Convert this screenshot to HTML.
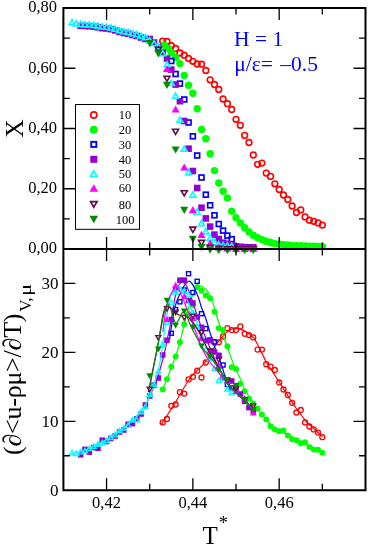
<!DOCTYPE html><html><head><meta charset="utf-8"><style>html,body{margin:0;padding:0;background:#fff;width:368px;height:545px;overflow:hidden}svg{display:block;will-change:transform}text{font-family:"Liberation Serif",serif}</style></head><body>
<svg width="368" height="545" viewBox="0 0 368 545">
<rect width="368" height="545" fill="#fff"/>
<g>
<circle cx="162.66" cy="41.1" r="2.87" fill="none" stroke="#ff0000" stroke-width="1.6"/>
<circle cx="166.98" cy="41.5" r="2.87" fill="none" stroke="#ff0000" stroke-width="1.6"/>
<circle cx="171.29" cy="45.7" r="2.87" fill="none" stroke="#ff0000" stroke-width="1.6"/>
<circle cx="175.61" cy="48.5" r="2.87" fill="none" stroke="#ff0000" stroke-width="1.6"/>
<circle cx="179.92" cy="53" r="2.87" fill="none" stroke="#ff0000" stroke-width="1.6"/>
<circle cx="184.24" cy="55.2" r="2.87" fill="none" stroke="#ff0000" stroke-width="1.6"/>
<circle cx="188.56" cy="58.5" r="2.87" fill="none" stroke="#ff0000" stroke-width="1.6"/>
<circle cx="192.87" cy="61.3" r="2.87" fill="none" stroke="#ff0000" stroke-width="1.6"/>
<circle cx="197.19" cy="64" r="2.87" fill="none" stroke="#ff0000" stroke-width="1.6"/>
<circle cx="201.5" cy="64.2" r="2.87" fill="none" stroke="#ff0000" stroke-width="1.6"/>
<circle cx="205.82" cy="70.5" r="2.87" fill="none" stroke="#ff0000" stroke-width="1.6"/>
<circle cx="210.13" cy="79.8" r="2.87" fill="none" stroke="#ff0000" stroke-width="1.6"/>
<circle cx="214.45" cy="84.5" r="2.87" fill="none" stroke="#ff0000" stroke-width="1.6"/>
<circle cx="218.77" cy="89.5" r="2.87" fill="none" stroke="#ff0000" stroke-width="1.6"/>
<circle cx="223.08" cy="99" r="2.87" fill="none" stroke="#ff0000" stroke-width="1.6"/>
<circle cx="227.4" cy="103.7" r="2.87" fill="none" stroke="#ff0000" stroke-width="1.6"/>
<circle cx="231.71" cy="109.5" r="2.87" fill="none" stroke="#ff0000" stroke-width="1.6"/>
<circle cx="236.03" cy="119.3" r="2.87" fill="none" stroke="#ff0000" stroke-width="1.6"/>
<circle cx="240.34" cy="125.3" r="2.87" fill="none" stroke="#ff0000" stroke-width="1.6"/>
<circle cx="244.66" cy="135.4" r="2.87" fill="none" stroke="#ff0000" stroke-width="1.6"/>
<circle cx="248.98" cy="142.5" r="2.87" fill="none" stroke="#ff0000" stroke-width="1.6"/>
<circle cx="253.29" cy="155" r="2.87" fill="none" stroke="#ff0000" stroke-width="1.6"/>
<circle cx="257.61" cy="164.3" r="2.87" fill="none" stroke="#ff0000" stroke-width="1.6"/>
<circle cx="261.92" cy="163.1" r="2.87" fill="none" stroke="#ff0000" stroke-width="1.6"/>
<circle cx="266.24" cy="173.1" r="2.87" fill="none" stroke="#ff0000" stroke-width="1.6"/>
<circle cx="270.55" cy="176.4" r="2.87" fill="none" stroke="#ff0000" stroke-width="1.6"/>
<circle cx="274.87" cy="183.8" r="2.87" fill="none" stroke="#ff0000" stroke-width="1.6"/>
<circle cx="279.19" cy="189.5" r="2.87" fill="none" stroke="#ff0000" stroke-width="1.6"/>
<circle cx="283.5" cy="195" r="2.87" fill="none" stroke="#ff0000" stroke-width="1.6"/>
<circle cx="287.82" cy="199.5" r="2.87" fill="none" stroke="#ff0000" stroke-width="1.6"/>
<circle cx="292.13" cy="206" r="2.87" fill="none" stroke="#ff0000" stroke-width="1.6"/>
<circle cx="296.45" cy="212.5" r="2.87" fill="none" stroke="#ff0000" stroke-width="1.6"/>
<circle cx="300.76" cy="209.9" r="2.87" fill="none" stroke="#ff0000" stroke-width="1.6"/>
<circle cx="305.08" cy="216.9" r="2.87" fill="none" stroke="#ff0000" stroke-width="1.6"/>
<circle cx="309.4" cy="220.2" r="2.87" fill="none" stroke="#ff0000" stroke-width="1.6"/>
<circle cx="313.71" cy="221.3" r="2.87" fill="none" stroke="#ff0000" stroke-width="1.6"/>
<circle cx="318.03" cy="222.9" r="2.87" fill="none" stroke="#ff0000" stroke-width="1.6"/>
<circle cx="322.34" cy="225.1" r="2.87" fill="none" stroke="#ff0000" stroke-width="1.6"/>
<circle cx="164.26" cy="45.3" r="3.71" fill="#00ff00"/>
<circle cx="168.58" cy="48.5" r="3.71" fill="#00ff00"/>
<circle cx="171.29" cy="52.8" r="3.71" fill="#00ff00"/>
<circle cx="175.61" cy="57.5" r="3.71" fill="#00ff00"/>
<circle cx="179.92" cy="63.6" r="3.71" fill="#00ff00"/>
<circle cx="184.24" cy="75.5" r="3.71" fill="#00ff00"/>
<circle cx="188.56" cy="85.2" r="3.71" fill="#00ff00"/>
<circle cx="192.87" cy="93.2" r="3.71" fill="#00ff00"/>
<circle cx="197.19" cy="108.8" r="3.71" fill="#00ff00"/>
<circle cx="201.5" cy="129.5" r="3.71" fill="#00ff00"/>
<circle cx="205.82" cy="138.8" r="3.71" fill="#00ff00"/>
<circle cx="210.13" cy="153.8" r="3.71" fill="#00ff00"/>
<circle cx="214.45" cy="170.6" r="3.71" fill="#00ff00"/>
<circle cx="218.77" cy="183" r="3.71" fill="#00ff00"/>
<circle cx="223.08" cy="191.3" r="3.71" fill="#00ff00"/>
<circle cx="227.4" cy="198" r="3.71" fill="#00ff00"/>
<circle cx="231.71" cy="211.3" r="3.71" fill="#00ff00"/>
<circle cx="236.03" cy="217.8" r="3.71" fill="#00ff00"/>
<circle cx="240.34" cy="222.9" r="3.71" fill="#00ff00"/>
<circle cx="244.66" cy="227.8" r="3.71" fill="#00ff00"/>
<circle cx="248.98" cy="231.9" r="3.71" fill="#00ff00"/>
<circle cx="253.29" cy="235.2" r="3.71" fill="#00ff00"/>
<circle cx="257.61" cy="237.6" r="3.71" fill="#00ff00"/>
<circle cx="261.92" cy="239.6" r="3.71" fill="#00ff00"/>
<circle cx="266.24" cy="241.2" r="3.71" fill="#00ff00"/>
<circle cx="270.55" cy="242.5" r="3.71" fill="#00ff00"/>
<circle cx="274.87" cy="243.6" r="3.71" fill="#00ff00"/>
<circle cx="279.19" cy="244.1" r="3.71" fill="#00ff00"/>
<circle cx="283.5" cy="244.6" r="3.71" fill="#00ff00"/>
<circle cx="287.82" cy="245" r="3.71" fill="#00ff00"/>
<circle cx="292.13" cy="245.4" r="3.71" fill="#00ff00"/>
<circle cx="296.45" cy="245.6" r="3.71" fill="#00ff00"/>
<circle cx="300.76" cy="245.8" r="3.71" fill="#00ff00"/>
<circle cx="305.08" cy="246" r="3.71" fill="#00ff00"/>
<circle cx="309.4" cy="246.2" r="3.71" fill="#00ff00"/>
<circle cx="313.71" cy="246.3" r="3.71" fill="#00ff00"/>
<circle cx="318.03" cy="246.4" r="3.71" fill="#00ff00"/>
<circle cx="322.34" cy="246.5" r="3.71" fill="#00ff00"/>
<rect x="168.85" y="58.56" width="4.88" height="4.88" fill="none" stroke="#0000ff" stroke-width="1.7"/>
<rect x="173.17" y="71.56" width="4.88" height="4.88" fill="none" stroke="#0000ff" stroke-width="1.7"/>
<rect x="177.48" y="81.16" width="4.88" height="4.88" fill="none" stroke="#0000ff" stroke-width="1.7"/>
<rect x="181.8" y="97.06" width="4.88" height="4.88" fill="none" stroke="#0000ff" stroke-width="1.7"/>
<rect x="186.12" y="120.06" width="4.88" height="4.88" fill="none" stroke="#0000ff" stroke-width="1.7"/>
<rect x="190.43" y="133.86" width="4.88" height="4.88" fill="none" stroke="#0000ff" stroke-width="1.7"/>
<rect x="194.75" y="153.06" width="4.88" height="4.88" fill="none" stroke="#0000ff" stroke-width="1.7"/>
<rect x="199.06" y="175.06" width="4.88" height="4.88" fill="none" stroke="#0000ff" stroke-width="1.7"/>
<rect x="203.38" y="192.26" width="4.88" height="4.88" fill="none" stroke="#0000ff" stroke-width="1.7"/>
<rect x="207.69" y="202.86" width="4.88" height="4.88" fill="none" stroke="#0000ff" stroke-width="1.7"/>
<rect x="212.01" y="212.86" width="4.88" height="4.88" fill="none" stroke="#0000ff" stroke-width="1.7"/>
<rect x="216.33" y="221.56" width="4.88" height="4.88" fill="none" stroke="#0000ff" stroke-width="1.7"/>
<rect x="220.64" y="228.16" width="4.88" height="4.88" fill="none" stroke="#0000ff" stroke-width="1.7"/>
<rect x="224.96" y="233.16" width="4.88" height="4.88" fill="none" stroke="#0000ff" stroke-width="1.7"/>
<rect x="229.27" y="236.76" width="4.88" height="4.88" fill="none" stroke="#0000ff" stroke-width="1.7"/>
<rect x="77.37" y="22.51" width="6.58" height="6.58" fill="#9400d3"/>
<rect x="81.69" y="22.71" width="6.58" height="6.58" fill="#9400d3"/>
<rect x="86" y="22.91" width="6.58" height="6.58" fill="#9400d3"/>
<rect x="90.32" y="23.41" width="6.58" height="6.58" fill="#9400d3"/>
<rect x="94.64" y="24.01" width="6.58" height="6.58" fill="#9400d3"/>
<rect x="98.95" y="24.91" width="6.58" height="6.58" fill="#9400d3"/>
<rect x="103.27" y="25.21" width="6.58" height="6.58" fill="#9400d3"/>
<rect x="107.58" y="25.91" width="6.58" height="6.58" fill="#9400d3"/>
<rect x="111.9" y="27.21" width="6.58" height="6.58" fill="#9400d3"/>
<rect x="116.21" y="28.71" width="6.58" height="6.58" fill="#9400d3"/>
<rect x="120.53" y="29.71" width="6.58" height="6.58" fill="#9400d3"/>
<rect x="124.85" y="30.41" width="6.58" height="6.58" fill="#9400d3"/>
<rect x="129.16" y="31.71" width="6.58" height="6.58" fill="#9400d3"/>
<rect x="133.48" y="32.71" width="6.58" height="6.58" fill="#9400d3"/>
<rect x="137.79" y="34.21" width="6.58" height="6.58" fill="#9400d3"/>
<rect x="142.11" y="35.71" width="6.58" height="6.58" fill="#9400d3"/>
<rect x="146.42" y="35.71" width="6.58" height="6.58" fill="#9400d3"/>
<rect x="150.74" y="39.21" width="6.58" height="6.58" fill="#9400d3"/>
<rect x="155.06" y="44.21" width="6.58" height="6.58" fill="#9400d3"/>
<rect x="159.37" y="49.21" width="6.58" height="6.58" fill="#9400d3"/>
<rect x="163.69" y="55.31" width="6.58" height="6.58" fill="#9400d3"/>
<rect x="168" y="66.31" width="6.58" height="6.58" fill="#9400d3"/>
<rect x="172.32" y="81.31" width="6.58" height="6.58" fill="#9400d3"/>
<rect x="176.63" y="97.91" width="6.58" height="6.58" fill="#9400d3"/>
<rect x="180.95" y="117.71" width="6.58" height="6.58" fill="#9400d3"/>
<rect x="185.27" y="145.41" width="6.58" height="6.58" fill="#9400d3"/>
<rect x="189.58" y="167.71" width="6.58" height="6.58" fill="#9400d3"/>
<rect x="193.9" y="184.71" width="6.58" height="6.58" fill="#9400d3"/>
<rect x="198.21" y="204.41" width="6.58" height="6.58" fill="#9400d3"/>
<rect x="202.53" y="215.11" width="6.58" height="6.58" fill="#9400d3"/>
<rect x="206.84" y="223.31" width="6.58" height="6.58" fill="#9400d3"/>
<rect x="211.16" y="231.31" width="6.58" height="6.58" fill="#9400d3"/>
<rect x="215.48" y="235.71" width="6.58" height="6.58" fill="#9400d3"/>
<rect x="219.79" y="239.41" width="6.58" height="6.58" fill="#9400d3"/>
<rect x="224.11" y="240.51" width="6.58" height="6.58" fill="#9400d3"/>
<rect x="228.42" y="241.71" width="6.58" height="6.58" fill="#9400d3"/>
<rect x="232.74" y="243.01" width="6.58" height="6.58" fill="#9400d3"/>
<rect x="237.05" y="243.51" width="6.58" height="6.58" fill="#9400d3"/>
<rect x="241.37" y="243.81" width="6.58" height="6.58" fill="#9400d3"/>
<rect x="245.69" y="244.01" width="6.58" height="6.58" fill="#9400d3"/>
<rect x="250" y="244.01" width="6.58" height="6.58" fill="#9400d3"/>
<path d="M72.03 19.66L75.04 24.92L69.02 24.92Z" fill="none" stroke="#00ffff" stroke-width="1.6"/>
<path d="M76.35 20.66L79.36 25.92L73.34 25.92Z" fill="none" stroke="#00ffff" stroke-width="1.6"/>
<path d="M80.66 21.36L83.67 26.62L77.65 26.62Z" fill="none" stroke="#00ffff" stroke-width="1.6"/>
<path d="M84.98 21.56L87.99 26.82L81.97 26.82Z" fill="none" stroke="#00ffff" stroke-width="1.6"/>
<path d="M89.29 21.76L92.3 27.02L86.29 27.02Z" fill="none" stroke="#00ffff" stroke-width="1.6"/>
<path d="M93.61 22.26L96.62 27.52L90.6 27.52Z" fill="none" stroke="#00ffff" stroke-width="1.6"/>
<path d="M97.93 22.86L100.93 28.12L94.92 28.12Z" fill="none" stroke="#00ffff" stroke-width="1.6"/>
<path d="M102.24 23.76L105.25 29.02L99.23 29.02Z" fill="none" stroke="#00ffff" stroke-width="1.6"/>
<path d="M106.56 24.06L109.57 29.32L103.55 29.32Z" fill="none" stroke="#00ffff" stroke-width="1.6"/>
<path d="M110.87 24.76L113.88 30.02L107.86 30.02Z" fill="none" stroke="#00ffff" stroke-width="1.6"/>
<path d="M115.19 26.06L118.2 31.32L112.18 31.32Z" fill="none" stroke="#00ffff" stroke-width="1.6"/>
<path d="M119.5 27.56L122.51 32.82L116.5 32.82Z" fill="none" stroke="#00ffff" stroke-width="1.6"/>
<path d="M123.82 28.56L126.83 33.82L120.81 33.82Z" fill="none" stroke="#00ffff" stroke-width="1.6"/>
<path d="M128.14 29.26L131.14 34.52L125.13 34.52Z" fill="none" stroke="#00ffff" stroke-width="1.6"/>
<path d="M132.45 30.56L135.46 35.82L129.44 35.82Z" fill="none" stroke="#00ffff" stroke-width="1.6"/>
<path d="M136.77 31.56L139.78 36.82L133.76 36.82Z" fill="none" stroke="#00ffff" stroke-width="1.6"/>
<path d="M141.08 33.06L144.09 38.32L138.07 38.32Z" fill="none" stroke="#00ffff" stroke-width="1.6"/>
<path d="M145.4 34.56L148.41 39.82L142.39 39.82Z" fill="none" stroke="#00ffff" stroke-width="1.6"/>
<path d="M149.71 37.56L152.72 42.82L146.71 42.82Z" fill="none" stroke="#00ffff" stroke-width="1.6"/>
<path d="M154.03 40.56L157.04 45.82L151.02 45.82Z" fill="none" stroke="#00ffff" stroke-width="1.6"/>
<path d="M158.35 43.56L161.35 48.82L155.34 48.82Z" fill="none" stroke="#00ffff" stroke-width="1.6"/>
<path d="M162.66 50.56L165.67 55.82L159.65 55.82Z" fill="none" stroke="#00ffff" stroke-width="1.6"/>
<path d="M166.98 61.56L169.99 66.82L163.97 66.82Z" fill="none" stroke="#00ffff" stroke-width="1.6"/>
<path d="M171.29 80.26L174.3 85.52L168.28 85.52Z" fill="none" stroke="#00ffff" stroke-width="1.6"/>
<path d="M175.61 93.06L178.62 98.32L172.6 98.32Z" fill="none" stroke="#00ffff" stroke-width="1.6"/>
<path d="M179.92 117.06L182.93 122.32L176.92 122.32Z" fill="none" stroke="#00ffff" stroke-width="1.6"/>
<path d="M184.24 146.06L187.25 151.32L181.23 151.32Z" fill="none" stroke="#00ffff" stroke-width="1.6"/>
<path d="M188.56 169.56L191.56 174.82L185.55 174.82Z" fill="none" stroke="#00ffff" stroke-width="1.6"/>
<path d="M192.87 191.86L195.88 197.12L189.86 197.12Z" fill="none" stroke="#00ffff" stroke-width="1.6"/>
<path d="M197.19 208.96L200.2 214.22L194.18 214.22Z" fill="none" stroke="#00ffff" stroke-width="1.6"/>
<path d="M201.5 220.36L204.51 225.62L198.49 225.62Z" fill="none" stroke="#00ffff" stroke-width="1.6"/>
<path d="M205.82 228.66L208.83 233.92L202.81 233.92Z" fill="none" stroke="#00ffff" stroke-width="1.6"/>
<path d="M210.13 235.16L213.14 240.42L207.13 240.42Z" fill="none" stroke="#00ffff" stroke-width="1.6"/>
<path d="M214.45 239.26L217.46 244.52L211.44 244.52Z" fill="none" stroke="#00ffff" stroke-width="1.6"/>
<path d="M218.77 241.66L221.77 246.92L215.76 246.92Z" fill="none" stroke="#00ffff" stroke-width="1.6"/>
<path d="M223.08 242.56L226.09 247.82L220.07 247.82Z" fill="none" stroke="#00ffff" stroke-width="1.6"/>
<path d="M227.4 242.96L230.41 248.22L224.39 248.22Z" fill="none" stroke="#00ffff" stroke-width="1.6"/>
<path d="M231.71 243.16L234.72 248.42L228.7 248.42Z" fill="none" stroke="#00ffff" stroke-width="1.6"/>
<path d="M166.98 64.88L171.02 72.12L162.94 72.12Z" fill="#ff00ff"/>
<path d="M175.61 105.38L179.65 112.62L171.57 112.62Z" fill="#ff00ff"/>
<path d="M184.24 163.38L188.28 170.62L180.2 170.62Z" fill="#ff00ff"/>
<path d="M192.87 206.08L196.91 213.32L188.83 213.32Z" fill="#ff00ff"/>
<path d="M201.5 230.78L205.54 238.02L197.46 238.02Z" fill="#ff00ff"/>
<path d="M210.13 239.18L214.18 246.42L206.09 246.42Z" fill="#ff00ff"/>
<path d="M218.77 243.38L222.81 250.62L214.72 250.62Z" fill="#ff00ff"/>
<path d="M227.4 244.38L231.44 251.62L223.36 251.62Z" fill="#ff00ff"/>
<path d="M236.03 244.68L240.07 251.92L231.99 251.92Z" fill="#ff00ff"/>
<path d="M244.66 244.68L248.7 251.92L240.62 251.92Z" fill="#ff00ff"/>
<path d="M253.29 244.68L257.33 251.92L249.25 251.92Z" fill="#ff00ff"/>
<path d="M158.35 52.44L161.35 47.18L155.34 47.18Z" fill="none" stroke="#670748" stroke-width="1.6"/>
<path d="M166.98 81.44L169.99 76.18L163.97 76.18Z" fill="none" stroke="#670748" stroke-width="1.6"/>
<path d="M175.61 134.44L178.62 129.18L172.6 129.18Z" fill="none" stroke="#670748" stroke-width="1.6"/>
<path d="M184.24 195.94L187.25 190.68L181.23 190.68Z" fill="none" stroke="#670748" stroke-width="1.6"/>
<path d="M192.87 232.34L195.88 227.08L189.86 227.08Z" fill="none" stroke="#670748" stroke-width="1.6"/>
<path d="M201.5 245.64L204.51 240.38L198.49 240.38Z" fill="none" stroke="#670748" stroke-width="1.6"/>
<path d="M210.13 250.44L213.14 245.18L207.13 245.18Z" fill="none" stroke="#670748" stroke-width="1.6"/>
<path d="M218.77 251.44L221.77 246.18L215.76 246.18Z" fill="none" stroke="#670748" stroke-width="1.6"/>
<path d="M227.4 251.94L230.41 246.68L224.39 246.68Z" fill="none" stroke="#670748" stroke-width="1.6"/>
<path d="M236.03 251.94L239.04 246.68L233.02 246.68Z" fill="none" stroke="#670748" stroke-width="1.6"/>
<path d="M244.66 251.94L247.67 246.68L241.65 246.68Z" fill="none" stroke="#670748" stroke-width="1.6"/>
<path d="M253.29 251.94L256.3 246.68L250.28 246.68Z" fill="none" stroke="#670748" stroke-width="1.6"/>
<path d="M149.71 47.32L153.76 40.08L145.67 40.08Z" fill="#008b00"/>
<path d="M158.35 57.42L162.39 50.18L154.3 50.18Z" fill="#008b00"/>
<path d="M166.98 88.92L171.02 81.68L162.94 81.68Z" fill="#008b00"/>
<path d="M175.61 153.62L179.65 146.38L171.57 146.38Z" fill="#008b00"/>
<path d="M184.24 213.92L188.28 206.68L180.2 206.68Z" fill="#008b00"/>
<path d="M192.87 242.92L196.91 235.68L188.83 235.68Z" fill="#008b00"/>
<path d="M201.5 251.12L205.54 243.88L197.46 243.88Z" fill="#008b00"/>
<path d="M210.13 253.62L214.18 246.38L206.09 246.38Z" fill="#008b00"/>
<path d="M218.77 254.12L222.81 246.88L214.72 246.88Z" fill="#008b00"/>
<path d="M227.4 254.12L231.44 246.88L223.36 246.88Z" fill="#008b00"/>
<path d="M236.03 254.12L240.07 246.88L231.99 246.88Z" fill="#008b00"/>
<path d="M244.66 254.12L248.7 246.88L240.62 246.88Z" fill="#008b00"/>
<path d="M253.29 254.12L257.33 246.88L249.25 246.88Z" fill="#008b00"/>
</g>
<g>
<path d="M161 425C163.33 421.33 170.38 410.5 175 403C179.62 395.5 185.2 385.27 188.7 380C192.2 374.73 193.15 374.45 196 371.4C198.85 368.35 202.9 365.5 205.8 361.7C208.7 357.9 211.05 352.23 213.4 348.6C215.75 344.97 217.92 342.43 219.9 339.9C221.88 337.37 223.48 335.13 225.3 333.4C227.12 331.67 228.8 330.3 230.8 329.5C232.8 328.7 235.32 328.5 237.3 328.6C239.28 328.7 240.88 329.3 242.7 330.1C244.52 330.9 246.38 332.13 248.2 333.4C250.02 334.67 251.97 335.72 253.6 337.7C255.23 339.68 256.55 342.58 258 345.3C259.45 348.02 260.85 351.1 262.3 354C263.75 356.9 265.25 360.15 266.7 362.7C268.15 365.25 268.87 366 271 369.3C273.13 372.6 276.67 378.05 279.5 382.5C282.33 386.95 285.25 391.75 288 396C290.75 400.25 293.17 404 296 408C298.83 412 302.17 416.67 305 420C307.83 423.33 310.08 425.25 313 428C315.92 430.75 320.92 435.08 322.5 436.5" fill="none" stroke="#ff0000" stroke-width="1.2" stroke-linejoin="round"/>
<circle cx="162.66" cy="422.4" r="2.5" fill="none" stroke="#ff0000" stroke-width="1.3"/>
<circle cx="166.98" cy="419" r="2.5" fill="none" stroke="#ff0000" stroke-width="1.3"/>
<circle cx="171.29" cy="405.8" r="2.5" fill="none" stroke="#ff0000" stroke-width="1.3"/>
<circle cx="175.61" cy="404.5" r="2.5" fill="none" stroke="#ff0000" stroke-width="1.3"/>
<circle cx="179.92" cy="392.2" r="2.5" fill="none" stroke="#ff0000" stroke-width="1.3"/>
<circle cx="184.24" cy="393.6" r="2.5" fill="none" stroke="#ff0000" stroke-width="1.3"/>
<circle cx="188.56" cy="379.4" r="2.5" fill="none" stroke="#ff0000" stroke-width="1.3"/>
<circle cx="192.87" cy="376.8" r="2.5" fill="none" stroke="#ff0000" stroke-width="1.3"/>
<circle cx="197.19" cy="370.7" r="2.5" fill="none" stroke="#ff0000" stroke-width="1.3"/>
<circle cx="201.5" cy="377.5" r="2.5" fill="none" stroke="#ff0000" stroke-width="1.3"/>
<circle cx="205.82" cy="362.5" r="2.5" fill="none" stroke="#ff0000" stroke-width="1.3"/>
<circle cx="210.13" cy="352" r="2.5" fill="none" stroke="#ff0000" stroke-width="1.3"/>
<circle cx="214.45" cy="342.1" r="2.5" fill="none" stroke="#ff0000" stroke-width="1.3"/>
<circle cx="218.77" cy="342.3" r="2.5" fill="none" stroke="#ff0000" stroke-width="1.3"/>
<circle cx="223.08" cy="336.5" r="2.5" fill="none" stroke="#ff0000" stroke-width="1.3"/>
<circle cx="227.4" cy="328.2" r="2.5" fill="none" stroke="#ff0000" stroke-width="1.3"/>
<circle cx="231.71" cy="330.1" r="2.5" fill="none" stroke="#ff0000" stroke-width="1.3"/>
<circle cx="236.03" cy="330.1" r="2.5" fill="none" stroke="#ff0000" stroke-width="1.3"/>
<circle cx="240.34" cy="326.4" r="2.5" fill="none" stroke="#ff0000" stroke-width="1.3"/>
<circle cx="244.66" cy="333.8" r="2.5" fill="none" stroke="#ff0000" stroke-width="1.3"/>
<circle cx="248.98" cy="335.1" r="2.5" fill="none" stroke="#ff0000" stroke-width="1.3"/>
<circle cx="253.29" cy="337.4" r="2.5" fill="none" stroke="#ff0000" stroke-width="1.3"/>
<circle cx="257.61" cy="349.6" r="2.5" fill="none" stroke="#ff0000" stroke-width="1.3"/>
<circle cx="261.92" cy="349.6" r="2.5" fill="none" stroke="#ff0000" stroke-width="1.3"/>
<circle cx="266.24" cy="364.2" r="2.5" fill="none" stroke="#ff0000" stroke-width="1.3"/>
<circle cx="270.55" cy="366.7" r="2.5" fill="none" stroke="#ff0000" stroke-width="1.3"/>
<circle cx="274.87" cy="370" r="2.5" fill="none" stroke="#ff0000" stroke-width="1.3"/>
<circle cx="279.19" cy="382.5" r="2.5" fill="none" stroke="#ff0000" stroke-width="1.3"/>
<circle cx="283.5" cy="389.5" r="2.5" fill="none" stroke="#ff0000" stroke-width="1.3"/>
<circle cx="287.82" cy="395" r="2.5" fill="none" stroke="#ff0000" stroke-width="1.3"/>
<circle cx="292.13" cy="402.8" r="2.5" fill="none" stroke="#ff0000" stroke-width="1.3"/>
<circle cx="296.45" cy="412.5" r="2.5" fill="none" stroke="#ff0000" stroke-width="1.3"/>
<circle cx="300.76" cy="410" r="2.5" fill="none" stroke="#ff0000" stroke-width="1.3"/>
<circle cx="305.08" cy="422.4" r="2.5" fill="none" stroke="#ff0000" stroke-width="1.3"/>
<circle cx="309.4" cy="426.5" r="2.5" fill="none" stroke="#ff0000" stroke-width="1.3"/>
<circle cx="313.71" cy="429.4" r="2.5" fill="none" stroke="#ff0000" stroke-width="1.3"/>
<circle cx="318.03" cy="432.6" r="2.5" fill="none" stroke="#ff0000" stroke-width="1.3"/>
<circle cx="322.34" cy="437.2" r="2.5" fill="none" stroke="#ff0000" stroke-width="1.3"/>
<path d="M162.8 389C163.5 387.33 165.55 382.67 167 379C168.45 375.33 170 371 171.5 367C173 363 174.58 359.17 176 355C177.42 350.83 178.67 347 180 342C181.33 337 182.67 330.33 184 325C185.33 319.67 186.67 314.67 188 310C189.33 305.33 190.67 300.42 192 297C193.33 293.58 194.63 291.33 196 289.5C197.37 287.67 198.6 286.05 200.2 286C201.8 285.95 203.98 287.67 205.6 289.2C207.22 290.73 208.67 292.9 209.9 295.2C211.13 297.5 211.87 299.53 213 303C214.13 306.47 215.2 311.17 216.7 316C218.2 320.83 220.02 326.2 222 332C223.98 337.8 226.42 344.77 228.6 350.8C230.78 356.83 233.2 363.67 235.1 368.2C237 372.73 238.35 374.37 240 378C241.65 381.63 243.33 386.67 245 390C246.67 393.33 248.33 395.5 250 398C251.67 400.5 253 402.33 255 405C257 407.67 259.5 410.83 262 414C264.5 417.17 267 421.17 270 424C273 426.83 276.67 429 280 431C283.33 433 286.67 434.33 290 436C293.33 437.67 296.67 439.33 300 441C303.33 442.67 306.25 444.17 310 446C313.75 447.83 320.42 451 322.5 452" fill="none" stroke="#00ff00" stroke-width="1.2" stroke-linejoin="round"/>
<circle cx="162.66" cy="389.4" r="2.95" fill="#00ff00"/>
<circle cx="166.98" cy="379.1" r="2.95" fill="#00ff00"/>
<circle cx="171.29" cy="366.7" r="2.95" fill="#00ff00"/>
<circle cx="175.61" cy="356.5" r="2.95" fill="#00ff00"/>
<circle cx="179.92" cy="342.2" r="2.95" fill="#00ff00"/>
<circle cx="184.24" cy="324.2" r="2.95" fill="#00ff00"/>
<circle cx="188.56" cy="314" r="2.95" fill="#00ff00"/>
<circle cx="192.87" cy="305" r="2.95" fill="#00ff00"/>
<circle cx="197.19" cy="287" r="2.95" fill="#00ff00"/>
<circle cx="201.5" cy="290.8" r="2.95" fill="#00ff00"/>
<circle cx="205.82" cy="295.4" r="2.95" fill="#00ff00"/>
<circle cx="210.13" cy="298.3" r="2.95" fill="#00ff00"/>
<circle cx="214.45" cy="311.8" r="2.95" fill="#00ff00"/>
<circle cx="218.77" cy="328.1" r="2.95" fill="#00ff00"/>
<circle cx="223.08" cy="330" r="2.95" fill="#00ff00"/>
<circle cx="227.4" cy="346.3" r="2.95" fill="#00ff00"/>
<circle cx="231.71" cy="367.2" r="2.95" fill="#00ff00"/>
<circle cx="236.03" cy="369" r="2.95" fill="#00ff00"/>
<circle cx="240.34" cy="383.7" r="2.95" fill="#00ff00"/>
<circle cx="244.66" cy="391.3" r="2.95" fill="#00ff00"/>
<circle cx="248.98" cy="398.7" r="2.95" fill="#00ff00"/>
<circle cx="253.29" cy="403.5" r="2.95" fill="#00ff00"/>
<circle cx="257.61" cy="408.7" r="2.95" fill="#00ff00"/>
<circle cx="261.92" cy="414.5" r="2.95" fill="#00ff00"/>
<circle cx="266.24" cy="419.5" r="2.95" fill="#00ff00"/>
<circle cx="270.55" cy="426.3" r="2.95" fill="#00ff00"/>
<circle cx="274.87" cy="429.5" r="2.95" fill="#00ff00"/>
<circle cx="279.19" cy="431.3" r="2.95" fill="#00ff00"/>
<circle cx="283.5" cy="430.5" r="2.95" fill="#00ff00"/>
<circle cx="287.82" cy="435.5" r="2.95" fill="#00ff00"/>
<circle cx="292.13" cy="439.3" r="2.95" fill="#00ff00"/>
<circle cx="296.45" cy="440.2" r="2.95" fill="#00ff00"/>
<circle cx="300.76" cy="443.2" r="2.95" fill="#00ff00"/>
<circle cx="305.08" cy="442.2" r="2.95" fill="#00ff00"/>
<circle cx="309.4" cy="447.1" r="2.95" fill="#00ff00"/>
<circle cx="313.71" cy="449.6" r="2.95" fill="#00ff00"/>
<circle cx="318.03" cy="449.8" r="2.95" fill="#00ff00"/>
<circle cx="322.34" cy="452.7" r="2.95" fill="#00ff00"/>
<path d="M169.5 340C169.7 338.57 169.88 336.57 170.7 331.4C171.52 326.23 173.3 314.23 174.4 309C175.5 303.77 176.37 302.5 177.3 300C178.23 297.5 178.88 296.33 180 294C181.12 291.67 182.58 288.12 184 286C185.42 283.88 187.25 281.8 188.5 281.3C189.75 280.8 190.48 281.83 191.5 283C192.52 284.17 193.35 285.6 194.6 288.3C195.85 291 197.88 296.08 199 299.2C200.12 302.32 200.38 304.37 201.3 307C202.22 309.63 203.47 312.17 204.5 315C205.53 317.83 206.57 321 207.5 324C208.43 327 208.85 329 210.1 333C211.35 337 213.47 343.72 215 348C216.53 352.28 218.05 355.37 219.3 358.7C220.55 362.03 221.47 364.78 222.5 368C223.53 371.22 224.48 375.17 225.5 378C226.52 380.83 227.52 383.25 228.6 385C229.68 386.75 231.43 387.92 232 388.5" fill="none" stroke="#0000ff" stroke-width="1.2" stroke-linejoin="round"/>
<rect x="169.26" y="331.27" width="4.06" height="4.06" fill="none" stroke="#0000ff" stroke-width="1.4"/>
<rect x="173.58" y="307.47" width="4.06" height="4.06" fill="none" stroke="#0000ff" stroke-width="1.4"/>
<rect x="177.89" y="299.77" width="4.06" height="4.06" fill="none" stroke="#0000ff" stroke-width="1.4"/>
<rect x="182.21" y="287.97" width="4.06" height="4.06" fill="none" stroke="#0000ff" stroke-width="1.4"/>
<rect x="186.53" y="271.67" width="4.06" height="4.06" fill="none" stroke="#0000ff" stroke-width="1.4"/>
<rect x="190.84" y="290.47" width="4.06" height="4.06" fill="none" stroke="#0000ff" stroke-width="1.4"/>
<rect x="195.16" y="279.27" width="4.06" height="4.06" fill="none" stroke="#0000ff" stroke-width="1.4"/>
<rect x="199.47" y="311.67" width="4.06" height="4.06" fill="none" stroke="#0000ff" stroke-width="1.4"/>
<rect x="203.79" y="326.57" width="4.06" height="4.06" fill="none" stroke="#0000ff" stroke-width="1.4"/>
<rect x="208.1" y="337.97" width="4.06" height="4.06" fill="none" stroke="#0000ff" stroke-width="1.4"/>
<rect x="212.42" y="339.97" width="4.06" height="4.06" fill="none" stroke="#0000ff" stroke-width="1.4"/>
<rect x="216.74" y="353.97" width="4.06" height="4.06" fill="none" stroke="#0000ff" stroke-width="1.4"/>
<rect x="221.05" y="362.97" width="4.06" height="4.06" fill="none" stroke="#0000ff" stroke-width="1.4"/>
<rect x="225.37" y="382.47" width="4.06" height="4.06" fill="none" stroke="#0000ff" stroke-width="1.4"/>
<rect x="229.68" y="385.97" width="4.06" height="4.06" fill="none" stroke="#0000ff" stroke-width="1.4"/>
<path d="M84.9 450.2C85.63 449.88 87.85 448.97 89.3 448.3C90.75 447.63 92.17 446.92 93.6 446.2C95.03 445.48 96.47 444.7 97.9 444C99.33 443.3 100.75 442.73 102.2 442C103.65 441.27 105.15 440.4 106.6 439.6C108.05 438.8 109.47 438.08 110.9 437.2C112.33 436.32 113.77 435.33 115.2 434.3C116.63 433.27 118.07 432.08 119.5 431C120.93 429.92 122.37 428.92 123.8 427.8C125.23 426.68 126.65 425.52 128.1 424.3C129.55 423.08 131.02 421.88 132.5 420.5C133.98 419.12 135.58 417.5 137 416C138.42 414.5 139.58 413.33 141 411.5C142.42 409.67 144.08 407.42 145.5 405C146.92 402.58 148.2 399.75 149.5 397C150.8 394.25 152.05 391.33 153.3 388.5C154.55 385.67 155.8 383.5 157 380C158.2 376.5 159.3 371.83 160.5 367.5C161.7 363.17 163.03 358.92 164.2 354C165.37 349.08 166.38 343.33 167.5 338C168.62 332.67 169.73 328.33 170.9 322C172.07 315.67 173.32 305.83 174.5 300C175.68 294.17 176.75 290 178 287C179.25 284 180.67 282.33 182 282C183.33 281.67 184.67 283 186 285C187.33 287 188.67 290.5 190 294C191.33 297.5 192.67 302 194 306C195.33 310 196.52 313.83 198 318C199.48 322.17 201.23 326.83 202.9 331C204.57 335.17 206.32 339 208 343C209.68 347 211.33 351.17 213 355C214.67 358.83 216.5 362.9 218 366C219.5 369.1 220.75 371.35 222 373.6C223.25 375.85 224.4 377.6 225.5 379.5C226.6 381.4 227.52 383.5 228.6 385C229.68 386.5 230.87 387.35 232 388.5C233.13 389.65 233.7 390.32 235.4 391.9C237.1 393.48 239.93 395.85 242.2 398C244.47 400.15 246.97 402.75 249 404.8C251.03 406.85 253.5 409.38 254.4 410.3" fill="none" stroke="#9400d3" stroke-width="1.2" stroke-linejoin="round"/>
<rect x="77.86" y="452" width="5.6" height="5.6" fill="#9400d3"/>
<rect x="82.18" y="446.6" width="5.6" height="5.6" fill="#9400d3"/>
<rect x="86.49" y="449.3" width="5.6" height="5.6" fill="#9400d3"/>
<rect x="90.81" y="444.7" width="5.6" height="5.6" fill="#9400d3"/>
<rect x="95.13" y="445.5" width="5.6" height="5.6" fill="#9400d3"/>
<rect x="99.44" y="437.4" width="5.6" height="5.6" fill="#9400d3"/>
<rect x="103.76" y="438.7" width="5.6" height="5.6" fill="#9400d3"/>
<rect x="108.07" y="435.7" width="5.6" height="5.6" fill="#9400d3"/>
<rect x="112.39" y="433.2" width="5.6" height="5.6" fill="#9400d3"/>
<rect x="116.7" y="429.2" width="5.6" height="5.6" fill="#9400d3"/>
<rect x="121.02" y="427.2" width="5.6" height="5.6" fill="#9400d3"/>
<rect x="125.34" y="421.5" width="5.6" height="5.6" fill="#9400d3"/>
<rect x="129.65" y="420.8" width="5.6" height="5.6" fill="#9400d3"/>
<rect x="133.97" y="416.2" width="5.6" height="5.6" fill="#9400d3"/>
<rect x="138.28" y="411.2" width="5.6" height="5.6" fill="#9400d3"/>
<rect x="142.6" y="402.2" width="5.6" height="5.6" fill="#9400d3"/>
<rect x="146.91" y="393.2" width="5.6" height="5.6" fill="#9400d3"/>
<rect x="151.23" y="382.2" width="5.6" height="5.6" fill="#9400d3"/>
<rect x="155.55" y="375.2" width="5.6" height="5.6" fill="#9400d3"/>
<rect x="159.86" y="352.2" width="5.6" height="5.6" fill="#9400d3"/>
<rect x="164.18" y="337.5" width="5.6" height="5.6" fill="#9400d3"/>
<rect x="168.49" y="316.8" width="5.6" height="5.6" fill="#9400d3"/>
<rect x="172.81" y="286.2" width="5.6" height="5.6" fill="#9400d3"/>
<rect x="177.12" y="277.4" width="5.6" height="5.6" fill="#9400d3"/>
<rect x="181.44" y="277.4" width="5.6" height="5.6" fill="#9400d3"/>
<rect x="185.76" y="297.7" width="5.6" height="5.6" fill="#9400d3"/>
<rect x="190.07" y="300.2" width="5.6" height="5.6" fill="#9400d3"/>
<rect x="194.39" y="314.2" width="5.6" height="5.6" fill="#9400d3"/>
<rect x="198.7" y="324.5" width="5.6" height="5.6" fill="#9400d3"/>
<rect x="203.02" y="337.8" width="5.6" height="5.6" fill="#9400d3"/>
<rect x="207.33" y="337.8" width="5.6" height="5.6" fill="#9400d3"/>
<rect x="211.65" y="349.2" width="5.6" height="5.6" fill="#9400d3"/>
<rect x="215.97" y="352.5" width="5.6" height="5.6" fill="#9400d3"/>
<rect x="220.28" y="375.2" width="5.6" height="5.6" fill="#9400d3"/>
<rect x="224.6" y="377.2" width="5.6" height="5.6" fill="#9400d3"/>
<rect x="228.91" y="378.2" width="5.6" height="5.6" fill="#9400d3"/>
<rect x="233.23" y="385.2" width="5.6" height="5.6" fill="#9400d3"/>
<rect x="237.54" y="391.2" width="5.6" height="5.6" fill="#9400d3"/>
<rect x="241.86" y="398.6" width="5.6" height="5.6" fill="#9400d3"/>
<rect x="246.18" y="404.8" width="5.6" height="5.6" fill="#9400d3"/>
<rect x="250.49" y="408.2" width="5.6" height="5.6" fill="#9400d3"/>
<path d="M72 453.5C72.72 453.45 74.87 453.48 76.3 453.2C77.73 452.92 79.17 452.3 80.6 451.8C82.03 451.3 83.45 450.78 84.9 450.2C86.35 449.62 87.85 448.97 89.3 448.3C90.75 447.63 92.17 446.92 93.6 446.2C95.03 445.48 96.47 444.7 97.9 444C99.33 443.3 100.75 442.73 102.2 442C103.65 441.27 105.15 440.4 106.6 439.6C108.05 438.8 109.47 438.08 110.9 437.2C112.33 436.32 113.77 435.33 115.2 434.3C116.63 433.27 118.07 432.08 119.5 431C120.93 429.92 122.37 428.92 123.8 427.8C125.23 426.68 126.65 425.52 128.1 424.3C129.55 423.08 131.05 421.8 132.5 420.5C133.95 419.2 135.37 418 136.8 416.5C138.23 415 139.67 413.42 141.1 411.5C142.53 409.58 143.97 407.58 145.4 405C146.83 402.42 148.27 399.42 149.7 396C151.13 392.58 152.28 390.17 154 384.5C155.72 378.83 158.47 369.42 160 362C161.53 354.58 162.2 346.67 163.2 340C164.2 333.33 164.95 328.67 166 322C167.05 315.33 168.33 305.17 169.5 300C170.67 294.83 171.83 293.08 173 291C174.17 288.92 175.33 288.17 176.5 287.5C177.67 286.83 178.75 286.08 180 287C181.25 287.92 182.67 290.5 184 293C185.33 295.5 186.5 298.67 188 302C189.5 305.33 191.33 309.17 193 313C194.67 316.83 196.5 320.83 198 325C199.5 329.17 200.33 333.83 202 338C203.67 342.17 206 346.17 208 350C210 353.83 212.17 357.92 214 361C215.83 364.08 217.67 366.4 219 368.5C220.33 370.6 220.92 371.77 222 373.6C223.08 375.43 224.4 377.6 225.5 379.5C226.6 381.4 227.52 383.5 228.6 385C229.68 386.5 231.43 387.92 232 388.5" fill="none" stroke="#00ffff" stroke-width="1.2" stroke-linejoin="round"/>
<path d="M72.03 450.27L74.53 454.64L69.54 454.64Z" fill="none" stroke="#00ffff" stroke-width="1.35"/>
<path d="M76.35 451.17L78.84 455.54L73.85 455.54Z" fill="none" stroke="#00ffff" stroke-width="1.35"/>
<path d="M80.66 449.47L83.16 453.84L78.17 453.84Z" fill="none" stroke="#00ffff" stroke-width="1.35"/>
<path d="M84.98 448.47L87.47 452.84L82.48 452.84Z" fill="none" stroke="#00ffff" stroke-width="1.35"/>
<path d="M89.29 446.27L91.79 450.64L86.8 450.64Z" fill="none" stroke="#00ffff" stroke-width="1.35"/>
<path d="M93.61 444.07L96.11 448.44L91.11 448.44Z" fill="none" stroke="#00ffff" stroke-width="1.35"/>
<path d="M97.93 441.97L100.42 446.34L95.43 446.34Z" fill="none" stroke="#00ffff" stroke-width="1.35"/>
<path d="M102.24 440.27L104.74 444.64L99.75 444.64Z" fill="none" stroke="#00ffff" stroke-width="1.35"/>
<path d="M106.56 438.17L109.05 442.54L104.06 442.54Z" fill="none" stroke="#00ffff" stroke-width="1.35"/>
<path d="M110.87 435.17L113.37 439.54L108.38 439.54Z" fill="none" stroke="#00ffff" stroke-width="1.35"/>
<path d="M115.19 432.47L117.68 436.84L112.69 436.84Z" fill="none" stroke="#00ffff" stroke-width="1.35"/>
<path d="M119.5 428.37L122 432.74L117.01 432.74Z" fill="none" stroke="#00ffff" stroke-width="1.35"/>
<path d="M123.82 425.67L126.32 430.04L121.32 430.04Z" fill="none" stroke="#00ffff" stroke-width="1.35"/>
<path d="M128.14 422.97L130.63 427.34L125.64 427.34Z" fill="none" stroke="#00ffff" stroke-width="1.35"/>
<path d="M132.45 417.47L134.95 421.84L129.96 421.84Z" fill="none" stroke="#00ffff" stroke-width="1.35"/>
<path d="M136.77 417.47L139.26 421.84L134.27 421.84Z" fill="none" stroke="#00ffff" stroke-width="1.35"/>
<path d="M141.08 409.37L143.58 413.74L138.59 413.74Z" fill="none" stroke="#00ffff" stroke-width="1.35"/>
<path d="M145.4 404.37L147.89 408.74L142.9 408.74Z" fill="none" stroke="#00ffff" stroke-width="1.35"/>
<path d="M149.71 391.97L152.21 396.34L147.22 396.34Z" fill="none" stroke="#00ffff" stroke-width="1.35"/>
<path d="M154.03 381.97L156.53 386.34L151.53 386.34Z" fill="none" stroke="#00ffff" stroke-width="1.35"/>
<path d="M158.35 368.97L160.84 373.34L155.85 373.34Z" fill="none" stroke="#00ffff" stroke-width="1.35"/>
<path d="M162.66 341.97L165.16 346.34L160.17 346.34Z" fill="none" stroke="#00ffff" stroke-width="1.35"/>
<path d="M166.98 319.97L169.47 324.34L164.48 324.34Z" fill="none" stroke="#00ffff" stroke-width="1.35"/>
<path d="M171.29 299.97L173.79 304.34L168.8 304.34Z" fill="none" stroke="#00ffff" stroke-width="1.35"/>
<path d="M175.61 289.97L178.1 294.34L173.11 294.34Z" fill="none" stroke="#00ffff" stroke-width="1.35"/>
<path d="M179.92 286.97L182.42 291.34L177.43 291.34Z" fill="none" stroke="#00ffff" stroke-width="1.35"/>
<path d="M184.24 288.97L186.74 293.34L181.74 293.34Z" fill="none" stroke="#00ffff" stroke-width="1.35"/>
<path d="M188.56 292.37L191.05 296.74L186.06 296.74Z" fill="none" stroke="#00ffff" stroke-width="1.35"/>
<path d="M192.87 309.97L195.37 314.34L190.38 314.34Z" fill="none" stroke="#00ffff" stroke-width="1.35"/>
<path d="M197.19 323.77L199.68 328.14L194.69 328.14Z" fill="none" stroke="#00ffff" stroke-width="1.35"/>
<path d="M201.5 333.97L204 338.34L199.01 338.34Z" fill="none" stroke="#00ffff" stroke-width="1.35"/>
<path d="M205.82 346.97L208.31 351.34L203.32 351.34Z" fill="none" stroke="#00ffff" stroke-width="1.35"/>
<path d="M210.13 355.97L212.63 360.34L207.64 360.34Z" fill="none" stroke="#00ffff" stroke-width="1.35"/>
<path d="M214.45 365.97L216.95 370.34L211.95 370.34Z" fill="none" stroke="#00ffff" stroke-width="1.35"/>
<path d="M218.77 377.97L221.26 382.34L216.27 382.34Z" fill="none" stroke="#00ffff" stroke-width="1.35"/>
<path d="M223.08 375.97L225.58 380.34L220.59 380.34Z" fill="none" stroke="#00ffff" stroke-width="1.35"/>
<path d="M227.4 386.67L229.89 391.04L224.9 391.04Z" fill="none" stroke="#00ffff" stroke-width="1.35"/>
<path d="M231.71 389.97L234.21 394.34L229.22 394.34Z" fill="none" stroke="#00ffff" stroke-width="1.35"/>
<path d="M163 332C163.18 330.12 163.43 325.2 164.1 320.7C164.77 316.2 165.85 309.45 167 305C168.15 300.55 169.67 296.83 171 294C172.33 291.17 173.83 289.08 175 288C176.17 286.92 176.83 286.07 178 287.5C179.17 288.93 180.5 293.02 182 296.6C183.5 300.18 185.33 304.77 187 309C188.67 313.23 190.33 317.67 192 322C193.67 326.33 195.18 330.33 197 335C198.82 339.67 200.73 345.5 202.9 350C205.07 354.5 207.48 358.33 210 362C212.52 365.67 215.42 368.83 218 372C220.58 375.17 223.17 378.17 225.5 381C227.83 383.83 229.58 386.42 232 389C234.42 391.58 237.33 393.92 240 396.5C242.67 399.08 245.6 402.08 248 404.5C250.4 406.92 253.33 409.92 254.4 411" fill="none" stroke="#ff00ff" stroke-width="1.2" stroke-linejoin="round"/>
<path d="M166.98 316L170.33 322L163.62 322Z" fill="#ff00ff"/>
<path d="M175.61 281.7L178.96 287.7L172.25 287.7Z" fill="#ff00ff"/>
<path d="M184.24 293L187.59 299L180.89 299Z" fill="#ff00ff"/>
<path d="M192.87 315L196.23 321L189.52 321Z" fill="#ff00ff"/>
<path d="M201.5 335L204.86 341L198.15 341Z" fill="#ff00ff"/>
<path d="M210.13 349L213.49 355L206.78 355Z" fill="#ff00ff"/>
<path d="M218.77 362L222.12 368L215.41 368Z" fill="#ff00ff"/>
<path d="M227.4 378L230.75 384L224.04 384Z" fill="#ff00ff"/>
<path d="M236.03 388L239.38 394L232.67 394Z" fill="#ff00ff"/>
<path d="M244.66 394.7L248.01 400.7L241.31 400.7Z" fill="#ff00ff"/>
<path d="M253.29 409.5L256.65 415.5L249.94 415.5Z" fill="#ff00ff"/>
<path d="M148.3 392C148.58 390.67 149.05 388.67 150 384C150.95 379.33 152.75 370.17 154 364C155.25 357.83 156.42 352.67 157.5 347C158.58 341.33 159.58 335.33 160.5 330C161.42 324.67 162.17 318.75 163 315C163.83 311.25 164.5 308.92 165.5 307.5C166.5 306.08 167.75 306.08 169 306.5C170.25 306.92 171.63 308.75 173 310C174.37 311.25 175.87 313.08 177.2 314C178.53 314.92 179.65 315.28 181 315.5C182.35 315.72 183.97 314.88 185.3 315.3C186.63 315.72 187.42 316.42 189 318C190.58 319.58 192.97 322.13 194.8 324.8C196.63 327.47 198.13 330.47 200 334C201.87 337.53 204 342.33 206 346C208 349.67 210 352.67 212 356C214 359.33 216.33 363.07 218 366C219.67 368.93 220.75 371.35 222 373.6C223.25 375.85 224.4 377.6 225.5 379.5C226.6 381.4 227.52 383.5 228.6 385C229.68 386.5 230.87 387.35 232 388.5C233.13 389.65 233.7 390.32 235.4 391.9C237.1 393.48 239.93 395.85 242.2 398C244.47 400.15 246.97 402.75 249 404.8C251.03 406.85 253.5 409.38 254.4 410.3" fill="none" stroke="#670748" stroke-width="1.2" stroke-linejoin="round"/>
<path d="M149.71 391.63L152.21 387.26L147.22 387.26Z" fill="none" stroke="#670748" stroke-width="1.35"/>
<path d="M158.35 340.03L160.84 335.66L155.85 335.66Z" fill="none" stroke="#670748" stroke-width="1.35"/>
<path d="M166.98 311.03L169.47 306.66L164.48 306.66Z" fill="none" stroke="#670748" stroke-width="1.35"/>
<path d="M175.61 314.53L178.1 310.16L173.11 310.16Z" fill="none" stroke="#670748" stroke-width="1.35"/>
<path d="M184.24 320.03L186.74 315.66L181.74 315.66Z" fill="none" stroke="#670748" stroke-width="1.35"/>
<path d="M192.87 318.53L195.37 314.16L190.38 314.16Z" fill="none" stroke="#670748" stroke-width="1.35"/>
<path d="M201.5 335.03L204 330.66L199.01 330.66Z" fill="none" stroke="#670748" stroke-width="1.35"/>
<path d="M210.13 353.33L212.63 348.96L207.64 348.96Z" fill="none" stroke="#670748" stroke-width="1.35"/>
<path d="M218.77 362.13L221.26 357.76L216.27 357.76Z" fill="none" stroke="#670748" stroke-width="1.35"/>
<path d="M227.4 383.03L229.89 378.66L224.9 378.66Z" fill="none" stroke="#670748" stroke-width="1.35"/>
<path d="M236.03 391.23L238.52 386.86L233.53 386.86Z" fill="none" stroke="#670748" stroke-width="1.35"/>
<path d="M244.66 402.03L247.16 397.66L242.16 397.66Z" fill="none" stroke="#670748" stroke-width="1.35"/>
<path d="M253.29 408.23L255.79 403.86L250.8 403.86Z" fill="none" stroke="#670748" stroke-width="1.35"/>
<path d="M149.5 389C149.75 387.5 150.08 384.83 151 380C151.92 375.17 153.75 366.33 155 360C156.25 353.67 157.5 347.33 158.5 342C159.5 336.67 160.17 332.5 161 328C161.83 323.5 162.73 318.5 163.5 315C164.27 311.5 164.85 308.83 165.6 307C166.35 305.17 167.1 303.5 168 304C168.9 304.5 170.08 307.67 171 310C171.92 312.33 172.7 315.75 173.5 318C174.3 320.25 174.97 323.17 175.8 323.5C176.63 323.83 177.37 321.82 178.5 320C179.63 318.18 181.35 313.43 182.6 312.6C183.85 311.77 184.77 313.1 186 315C187.23 316.9 188.75 321.23 190 324C191.25 326.77 192.17 328.93 193.5 331.6C194.83 334.27 196.58 337.43 198 340C199.42 342.57 200.33 344.5 202 347C203.67 349.5 206 352.5 208 355C210 357.5 212.17 359.75 214 362C215.83 364.25 217.67 366.57 219 368.5C220.33 370.43 220.92 371.77 222 373.6C223.08 375.43 224.4 377.6 225.5 379.5C226.6 381.4 227.52 383.5 228.6 385C229.68 386.5 230.87 387.35 232 388.5C233.13 389.65 233.7 390.32 235.4 391.9C237.1 393.48 239.93 395.85 242.2 398C244.47 400.15 246.97 402.75 249 404.8C251.03 406.85 253.5 409.38 254.4 410.3" fill="none" stroke="#008b00" stroke-width="1.2" stroke-linejoin="round"/>
<path d="M149.71 379.3L153.07 373.3L146.36 373.3Z" fill="#008b00"/>
<path d="M158.35 352.4L161.7 346.4L154.99 346.4Z" fill="#008b00"/>
<path d="M166.98 303.8L170.33 297.8L163.62 297.8Z" fill="#008b00"/>
<path d="M175.61 328.8L178.96 322.8L172.25 322.8Z" fill="#008b00"/>
<path d="M184.24 314.4L187.59 308.4L180.89 308.4Z" fill="#008b00"/>
<path d="M192.87 330.5L196.23 324.5L189.52 324.5Z" fill="#008b00"/>
<path d="M201.5 349.5L204.86 343.5L198.15 343.5Z" fill="#008b00"/>
<path d="M210.13 360L213.49 354L206.78 354Z" fill="#008b00"/>
<path d="M218.77 373.5L222.12 367.5L215.41 367.5Z" fill="#008b00"/>
<path d="M227.4 383L230.75 377L224.04 377Z" fill="#008b00"/>
<path d="M236.03 389L239.38 383L232.67 383Z" fill="#008b00"/>
<path d="M244.66 403.2L248.01 397.2L241.31 397.2Z" fill="#008b00"/>
<path d="M253.29 413L256.65 407L249.94 407Z" fill="#008b00"/>
</g>
<path d="M63.4 8H365.5V490.2H63.4Z M63.4 249H365.5" fill="none" stroke="#000" stroke-width="2"/>
<path d="M106.56 8v12M106.56 249v-12M106.56 249v12M106.56 490.2v-12M149.71 8v6.5M149.71 249v-6.5M149.71 249v6.5M149.71 490.2v-6.5M192.87 8v12M192.87 249v-12M192.87 249v12M192.87 490.2v-12M236.03 8v6.5M236.03 249v-6.5M236.03 249v6.5M236.03 490.2v-6.5M279.19 8v12M279.19 249v-12M279.19 249v12M279.19 490.2v-12M322.34 8v6.5M322.34 249v-6.5M322.34 249v6.5M322.34 490.2v-6.5M63.4 218.88h6.5M365.5 218.88h-6.5M63.4 188.75h12M365.5 188.75h-12M63.4 158.62h6.5M365.5 158.62h-6.5M63.4 128.5h12M365.5 128.5h-12M63.4 98.38h6.5M365.5 98.38h-6.5M63.4 68.25h12M365.5 68.25h-12M63.4 38.13h6.5M365.5 38.13h-6.5M63.4 455.74h6.5M365.5 455.74h-6.5M63.4 421.29h12M365.5 421.29h-12M63.4 386.83h6.5M365.5 386.83h-6.5M63.4 352.37h12M365.5 352.37h-12M63.4 317.91h6.5M365.5 317.91h-6.5M63.4 283.46h12M365.5 283.46h-12" stroke="#000" stroke-width="1.3" fill="none"/>
<text x="57" y="12.3" font-size="16.5" text-anchor="end">0,80</text>
<text x="57" y="72.55" font-size="16.5" text-anchor="end">0,60</text>
<text x="57" y="132.8" font-size="16.5" text-anchor="end">0,40</text>
<text x="57" y="193.05" font-size="16.5" text-anchor="end">0,20</text>
<text x="57" y="253.3" font-size="16.5" text-anchor="end">0,00</text>
<text x="58.5" y="496" font-size="17" text-anchor="end">0</text>
<text x="58.5" y="427.09" font-size="17" text-anchor="end">10</text>
<text x="58.5" y="358.17" font-size="17" text-anchor="end">20</text>
<text x="58.5" y="289.26" font-size="17" text-anchor="end">30</text>
<text x="106.56" y="507.5" font-size="16.5" text-anchor="middle">0,42</text>
<text x="192.87" y="507.5" font-size="16.5" text-anchor="middle">0,44</text>
<text x="279.19" y="507.5" font-size="16.5" text-anchor="middle">0,46</text>
<text x="202.5" y="543.5" font-size="25">T</text>
<text x="218.8" y="529" font-size="18.5">*</text>
<text transform="translate(22.6,128.5) rotate(-90)" font-size="25.5" text-anchor="middle">X</text>
<text transform="translate(20.7,455) rotate(-90)" font-size="26" textLength="141.5" lengthAdjust="spacing">(&#8706;&lt;u-&#961;&#956;&gt;/&#8706;T)</text>
<text transform="translate(30.9,311.8) rotate(-90)" font-size="17">V,</text>
<text transform="translate(30.9,295.8) rotate(-90) scale(1.3,1)" font-size="17">&#956;</text>
<text x="234" y="46" font-size="21.5" fill="#0000ff">H = 1</text>
<text x="234.3" y="71.2" font-size="21.5" fill="#0000ff">&#956;/&#949;=</text>
<text x="280.3" y="71.2" font-size="21.5" fill="#0000ff">&#8211;0.5</text>
<rect x="75.5" y="104.5" width="64" height="124.8" fill="#fff" stroke="#000" stroke-width="1"/>
<circle cx="93.8" cy="115" r="3.05" fill="none" stroke="#ff0000" stroke-width="1.7"/>
<text x="125" y="119.2" font-size="12.5" text-anchor="middle">10</text>
<circle cx="93.8" cy="129.8" r="3.95" fill="#00ff00"/>
<text x="125" y="134" font-size="12.5" text-anchor="middle">20</text>
<rect x="91.25" y="141.85" width="5.1" height="5.1" fill="none" stroke="#0000ff" stroke-width="1.9"/>
<text x="125" y="148.6" font-size="12.5" text-anchor="middle">30</text>
<rect x="90.3" y="155.8" width="7" height="7" fill="#9400d3"/>
<text x="125" y="163.5" font-size="12.5" text-anchor="middle">40</text>
<path d="M93.8 170.8L97 176.4L90.6 176.4Z" fill="none" stroke="#00ffff" stroke-width="1.7"/>
<text x="125" y="177.6" font-size="12.5" text-anchor="middle">50</text>
<path d="M93.8 184.15L98.1 191.85L89.5 191.85Z" fill="#ff00ff"/>
<text x="125" y="192.2" font-size="12.5" text-anchor="middle">60</text>
<path d="M93.8 207.2L97 201.6L90.6 201.6Z" fill="none" stroke="#670748" stroke-width="1.7"/>
<text x="125" y="208.8" font-size="12.5" text-anchor="middle">80</text>
<path d="M93.8 223.35L98.1 215.65L89.5 215.65Z" fill="#008b00"/>
<text x="125" y="223.7" font-size="12.5" text-anchor="middle">100</text>
</svg></body></html>
